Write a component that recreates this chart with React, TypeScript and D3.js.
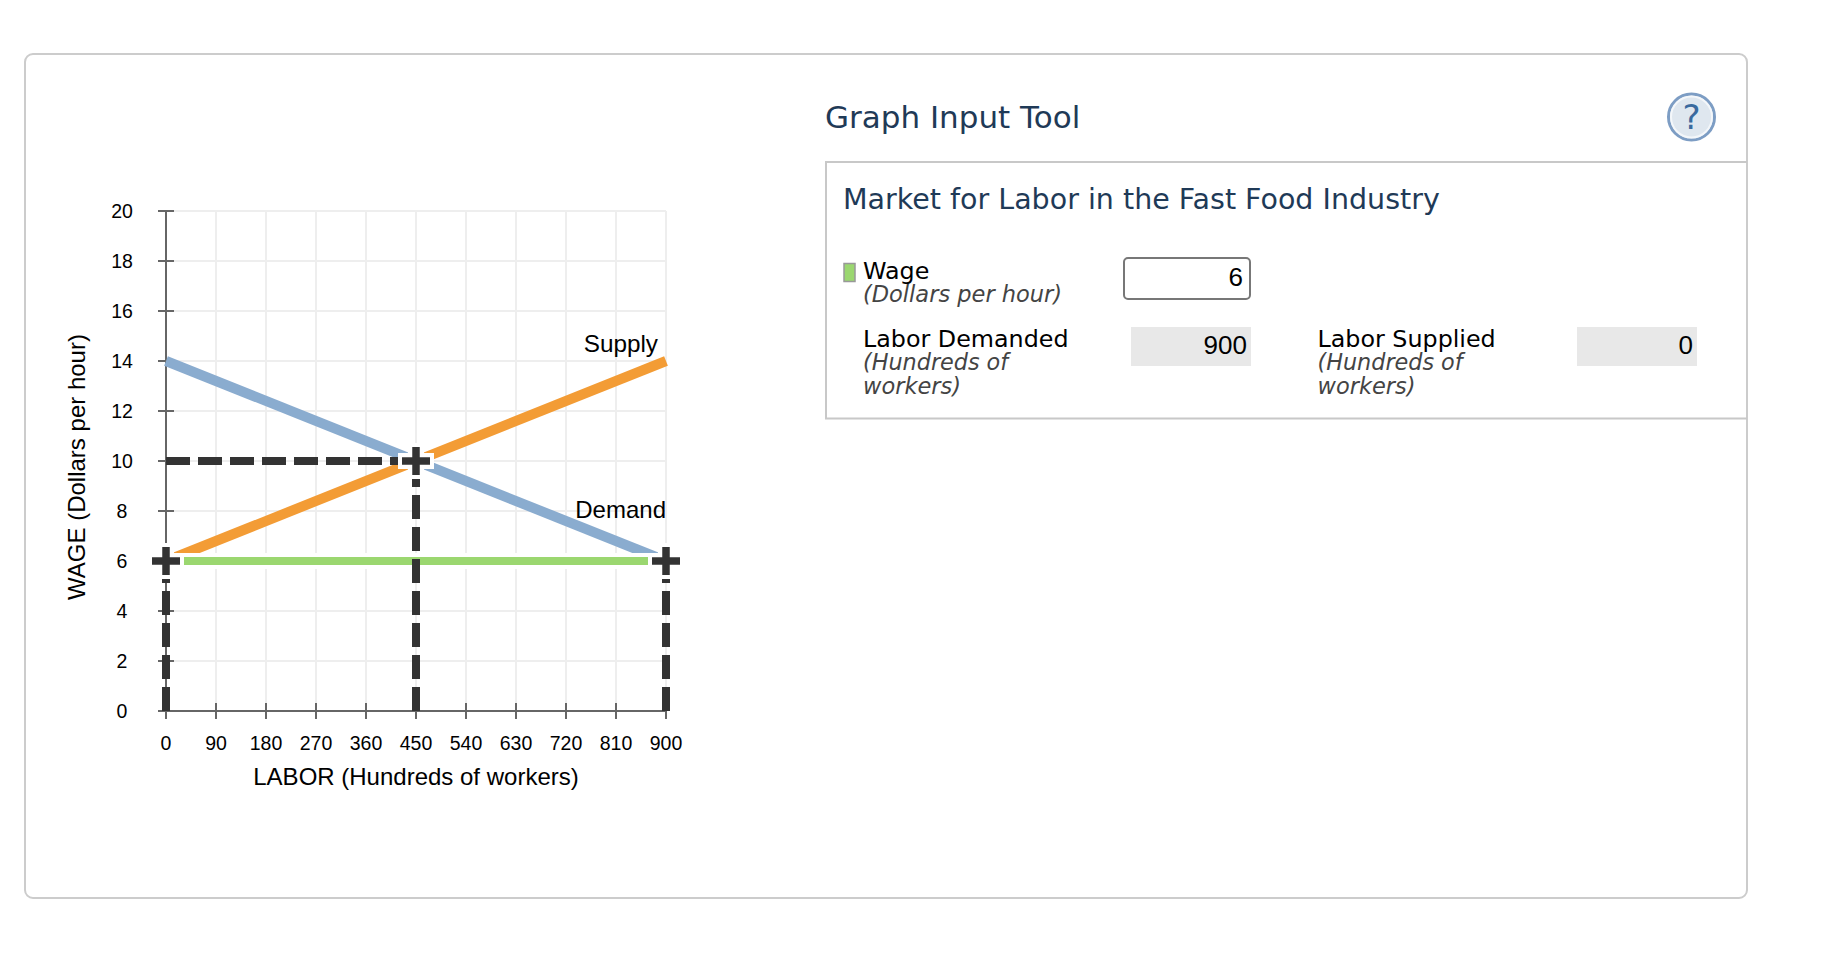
import React from 'react';
import * as d3 from 'd3';

// Chart values
const laborTicks = [0, 90, 180, 270, 360, 450, 540, 630, 720, 810, 900];
const wageTicks = [0, 2, 4, 6, 8, 10, 12, 14, 16, 18, 20];
const demandPoints: [number, number][] = [[0, 14], [900, 6]];
const supplyPoints: [number, number][] = [[0, 6], [900, 14]];
const wagePoints: [number, number][] = [[0, 6], [900, 6]];
const handles: [number, number][] = [[0, 6], [450, 10], [900, 6]];
const guidesH: [number, number][][] = [[[0, 10], [450, 10]]];
const guidesV: [number, number][][] = [
  [[0, 0], [0, 6]],
  [[450, 0], [450, 10]],
  [[900, 0], [900, 6]],
];

const x = d3.scaleLinear().domain([0, 900]).range([166, 666]);
const y = d3.scaleLinear().domain([0, 20]).range([711, 211]);
const line = d3.line<[number, number]>().x(d => x(d[0])).y(d => y(d[1]));

const ARIAL = '"Liberation Sans", Arial, sans-serif';
const VERDANA = '"DejaVu Sans", Verdana, sans-serif';
const NAVY = '#1f3a57';
const AXIS = '#666666';
const GRID = '#eeeeee';

const plus = (s: number) => `M${-s},0H${s}M0,${-s}V${s}`;

const App: React.FC = () => (
  <svg width={1842} height={954} viewBox="0 0 1842 954"
    style={{ position: 'absolute', left: 0, top: 0, background: '#fff' }}>
    <rect x={25} y={54} width={1722} height={844} rx={8} fill="#fff" stroke="#cccccc" strokeWidth={2} />

    {/* grid */}
    {laborTicks.slice(1).map(t => (
      <line key={t} x1={x(t)} x2={x(t)} y1={y(20)} y2={y(0)} stroke={GRID} strokeWidth={2} />
    ))}
    {wageTicks.slice(1).map(t => (
      <line key={t} x1={x(0)} x2={x(900)} y1={y(t)} y2={y(t)} stroke={GRID} strokeWidth={2} />
    ))}

    {/* axes */}
    <line x1={x(0)} x2={x(0)} y1={y(20)} y2={y(0) + 8} stroke={AXIS} strokeWidth={2} />
    <line x1={x(0) - 8} x2={x(900)} y1={y(0)} y2={y(0)} stroke={AXIS} strokeWidth={2} />
    {wageTicks.map(t => (
      <g key={t}>
        <line x1={x(0) - 8} x2={x(0) + 8} y1={y(t)} y2={y(t)} stroke={AXIS} strokeWidth={2} />
        <text x={122} y={y(t) + 6.5} textAnchor="middle" fontFamily={ARIAL} fontSize={19.5} fill="#000">{t}</text>
      </g>
    ))}
    {laborTicks.map(t => (
      <g key={t}>
        <line x1={x(t)} x2={x(t)} y1={y(0) - 8} y2={y(0) + 8} stroke={AXIS} strokeWidth={2} />
        <text x={x(t)} y={750} textAnchor="middle" fontFamily={ARIAL} fontSize={19.5} fill="#000">{t}</text>
      </g>
    ))}
    <text x={416} y={785} textAnchor="middle" fontFamily={ARIAL} fontSize={24} fill="#000">LABOR (Hundreds of workers)</text>
    <text transform="translate(85,467) rotate(-90)" textAnchor="middle" fontFamily={ARIAL} fontSize={24} fill="#000">WAGE (Dollars per hour)</text>

    {/* curves */}
    <path d={line(demandPoints) ?? ''} fill="none" stroke="#8aaccf" strokeWidth={10} />
    <path d={line(supplyPoints) ?? ''} fill="none" stroke="#f39c35" strokeWidth={10} />
    <text x={658} y={352} textAnchor="end" fontFamily={ARIAL} fontSize={24.3} fill="#000">Supply</text>
    <text x={666} y={518} textAnchor="end" fontFamily={ARIAL} fontSize={24} fill="#000">Demand</text>

    {/* wage line */}
    <path d={line(wagePoints) ?? ''} fill="none" stroke="#fff" strokeWidth={16} />
    <path d={line(wagePoints) ?? ''} fill="none" stroke="#9bd770" strokeWidth={8} />

    {/* dashed guides */}
    {guidesH.concat(guidesV).map((g, i) => (
      <path key={i} d={line(g) ?? ''} fill="none" stroke="#333333" strokeWidth={8} strokeDasharray="24 8" />
    ))}

    {/* handles */}
    {handles.map((h, i) => (
      <g key={i} transform={`translate(${x(h[0])},${y(h[1])})`}>
        <path d={plus(18)} fill="none" stroke="#fff" strokeWidth={16} />
        <path d={plus(14)} fill="none" stroke="#333333" strokeWidth={7.5} />
      </g>
    ))}

    {/* input panel */}
    <text x={825} y={128} fontFamily={VERDANA} fontSize={31} fill={NAVY}>Graph Input Tool</text>
    <circle cx={1691.5} cy={117} r={23} fill="#dfe7ef" stroke="#7d9dc4" strokeWidth={3} />
    <circle cx={1691.5} cy={117} r={20.5} fill="none" stroke="#f4f7fa" strokeWidth={2} />
    <text x={1691.5} y={129} textAnchor="middle" fontFamily={VERDANA} fontSize={34} fill="#3a6a9e">?</text>

    <path d="M1747,162H826V418.5H1747" fill="none" stroke="#c8c8c8" strokeWidth={2} />
    <text x={843} y={209} fontFamily={VERDANA} fontSize={28.5} fill={NAVY}>Market for Labor in the Fast Food Industry</text>

    <rect x={844} y={263.5} width={11} height={18} fill="#9bd770" stroke="#999999" strokeWidth={1.5} />
    <text x={863} y={279} fontFamily={VERDANA} fontSize={23.8} fill="#000">Wage</text>
    <text x={863} y={302} fontFamily={VERDANA} fontStyle="italic" fontSize={22.5} fill="#444">(Dollars per hour)</text>
    <rect x={1124} y={258} width={126} height={41} rx={4} fill="#fff" stroke="#777777" strokeWidth={2} />
    <text x={1243} y={286} textAnchor="end" fontFamily={ARIAL} fontSize={26} fill="#000">6</text>

    <text x={863} y={347} fontFamily={VERDANA} fontSize={23.8} fill="#000">Labor Demanded</text>
    <text x={863} y={370} fontFamily={VERDANA} fontStyle="italic" fontSize={22.3} fill="#444">(Hundreds of</text>
    <text x={863} y={394} fontFamily={VERDANA} fontStyle="italic" fontSize={22.5} fill="#444">workers)</text>
    <rect x={1131} y={327} width={120} height={39} fill="#e8e8e8" />
    <text x={1247} y={354} textAnchor="end" fontFamily={ARIAL} fontSize={26} fill="#000">900</text>

    <text x={1317.5} y={347} fontFamily={VERDANA} fontSize={23.8} fill="#000">Labor Supplied</text>
    <text x={1317.5} y={370} fontFamily={VERDANA} fontStyle="italic" fontSize={22.3} fill="#444">(Hundreds of</text>
    <text x={1317.5} y={394} fontFamily={VERDANA} fontStyle="italic" fontSize={22.5} fill="#444">workers)</text>
    <rect x={1577} y={327} width={120} height={39} fill="#e8e8e8" />
    <text x={1693} y={354} textAnchor="end" fontFamily={ARIAL} fontSize={26} fill="#000">0</text>
  </svg>
);

export default App;
